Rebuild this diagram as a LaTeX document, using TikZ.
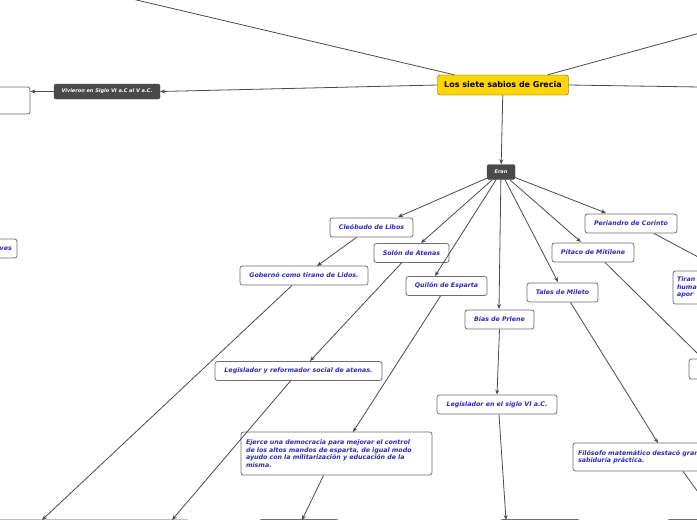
\documentclass[tikz,border=0pt]{standalone}
\usepackage{fontspec}
\setmainfont{DejaVu Sans}
\usetikzlibrary{arrows.meta}
\definecolor{edge}{HTML}{4A4A4A}
\definecolor{txt}{HTML}{2B2BB8}
\begin{document}
\begin{tikzpicture}[x=1pt,y=-1pt,
  box/.style={draw=edge!80,line width=0.8pt,rounded corners=2.5pt,fill=white,font=\fontsize{6.3}{7.5}\selectfont\bfseries\itshape,text=txt,inner sep=0pt,minimum height=19pt,align=center},
  dark/.style={fill=edge,draw=edge,rounded corners=1.5pt,text=white,font=\fontsize{5}{6}\selectfont\bfseries\itshape,inner sep=0pt,minimum height=15pt},
  ar/.style={draw=edge,line width=0.8pt,-{Stealth[length=5pt,width=4pt]}},
  ln/.style={draw=edge,line width=0.8pt}]
\useasboundingbox (0,0) rectangle (697,520);
\node[fill={rgb,255:red,255;green,214;blue,0},draw=black!70,rounded corners=2.5pt,minimum width=131pt,minimum height=20pt,inner sep=0pt,font=\fontsize{8}{9}\selectfont\bfseries] (root) at (503,85) {Los siete sabios de Grecia};
\node[dark,minimum width=28pt] (eran) at (501,172) {Eran};
\node[dark,minimum width=106pt] (viv) at (107,91.5) {Vivieron en Siglo VI a.C al V a.C.};
\node[box,minimum width=50pt,minimum height=27pt] (lb) at (5,100.5) {};
\node[box,minimum width=40pt] (ves) at (-3,248.5) {};
\node[font=\fontsize{6.3}{7.5}\selectfont\bfseries\itshape,text=txt,anchor=east,inner sep=0pt] (vest) at (12,248.5) {ves};
\node[box,minimum width=83pt] (cle) at (371.5,227.5) {Cleóbudo de Libos};
\node[box,minimum width=75pt] (sol) at (411.5,253) {Solón de Atenas};
\node[box,minimum width=81pt] (qui) at (446.5,286) {Quilón de Esparta};
\node[box,minimum width=69pt] (bia) at (499.5,319.5) {Bías de Prlene};
\node[box,minimum width=71pt] (tal) at (562.5,292.5) {Tales de Mileto};
\node[box,minimum width=82pt] (pit) at (593,252.5) {Pítaco de Mitilene};
\node[box,minimum width=92pt] (per) at (631,223.5) {Periandro de Corinto};
\node[box,minimum width=60pt,minimum height=33pt,align=left,text width=52pt] (tir) at (703,287.5) {Tiran\\huma\\apor};
\node[box,minimum width=30pt,minimum height=20pt] (sm) at (704,369) {};
\node[box,minimum width=128pt] (gob) at (304,275.5) {Gobernó como tirano de Lidos.};
\node[box,minimum width=167pt] (lyr) at (298.5,371) {Legislador y reformador social de atenas.};
\node[box,minimum width=120pt] (lvi) at (497,404.5) {Legislador en el siglo VI a.C.};
\node[box,minimum width=191pt,minimum height=43pt,text width=181pt,align=left] (eje) at (336.5,453.5) {Ejerce una democracia para mejorar el control\\de los altos mandos de esparta, de igual modo\\ayudo con la militarización y educación de la\\misma.};
\node[box,minimum width=140pt,minimum height=28pt,text width=130pt,align=left] (fil) at (643,457) {Filósofo matemático destacó gran\\sabiduría práctica.};
\node[box,draw=black!25,minimum width=88pt] (b1) at (40,529) {};
\node[box,draw=black!25,minimum width=110pt] (b2) at (134,529) {};
\node[box,minimum width=80pt] (b3) at (299,529) {};
\node[box,minimum width=80pt] (b4) at (540,529) {};
\node[box,minimum width=60pt] (b5) at (697,529) {};
\coordinate (t1) at (128,-2); \coordinate (t2) at (700,33); \coordinate (t3) at (700,87);
\draw[ln] (root.north west) ++(17,0) -- (t1);
\draw[ln] (root.north east) ++(-21,0) -- (t2);
\draw[ln] (root.east) -- (t3);
\draw[ar] (root.west) -- (viv.east);
\draw[ar] (viv.west) -- (lb.east |- viv.west);
\draw[ar] (root) -- (eran);
\foreach \n/\e in {cle/{398,217},sol/{421,243},qui/{435,276},bia/{499,309},tal/{558,282},pit/{581,242},per/{606,213}}
  \draw[ar] (eran) -- (\e);
\draw[ar] (cle.south) ++(-15,0) -- (317,266);
\draw[ar] (sol) ++(-10,10) -- (310,361);
\draw[ar] (qui.south) ++(-6,0) -- (353,432);
\draw[ar] (bia.south) -- (lvi.north);
\draw[ar] (tal.south) ++(8,0) -- (658,443);
\draw[ar] (gob.south) ++(-12,0) -- (42,520);
\draw[ar] (lyr.south) ++(-8,0) -- (172,520);
\draw[ar] (eje.south) ++(-13,0) -- (302,520);
\draw[ar] (lvi.south) ++(2,0) -- (506,520);
\draw[ln] (pit.south) ++(12,0) -- (698,354);
\draw[ln] (per.south) ++(23,0) -- (698,257);
\draw[ln] (fil.south) ++(40,0) -- (698,492);
\end{tikzpicture}
\end{document}
